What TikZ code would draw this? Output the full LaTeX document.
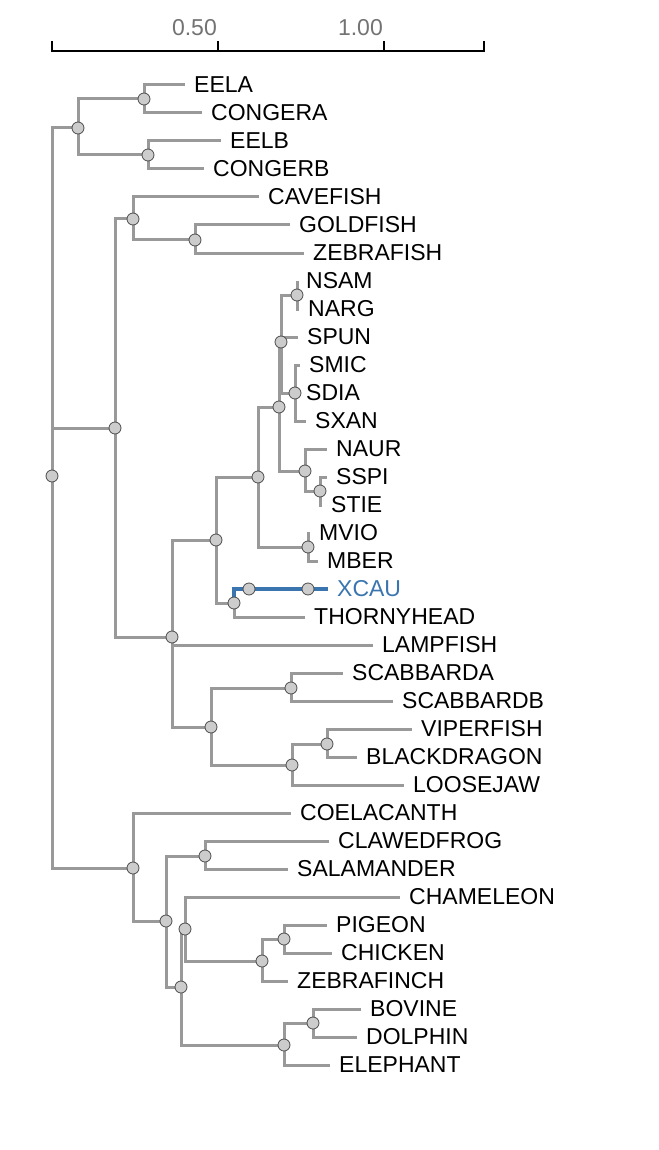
\documentclass[tikz,border=0pt]{standalone}
\usepackage{fontspec}
\setmainfont{Liberation Sans}
\begin{document}
\begin{tikzpicture}[x=1pt,y=-1pt,
  br/.style={draw=gray!80!white,line width=3pt},
  xbr/.style={draw=xblue,line width=4pt},
  leaf/.style={anchor=west,inner sep=0pt,font=\fontsize{23}{23}\selectfont},
  dot/.style={circle,draw=black!70,fill=black!20,line width=0.8pt,minimum size=12pt,inner sep=0pt},
  axlab/.style={anchor=south east,inner sep=0pt,text=black!55,font=\fontsize{23}{23}\selectfont}]
\definecolor{xblue}{HTML}{3A75B0}
\colorlet{gray!80!white}{black!40}
\useasboundingbox (0,0) rectangle (658,1150);
% axis
\draw[line width=1.5pt] (52,41) -- (52,51) -- (484,51) -- (484,41);
\draw[line width=1.5pt] (218,51) -- (218,41);
\draw[line width=1.5pt] (384,51) -- (384,41);
\node[axlab] (l50) at (217,36) {0.50};
\node[axlab] (l100) at (383,36) {1.00};
% internal nodes
\foreach \n/\x/\y in {root/52/476,eel/78/128,ea/144/99,eb/148/155,cave/133/219,gold/195/240,tel/115/428,
  nH/172/637,nG/216/540,nF/258/477,nE/279/407,nB/281/342,nA/297/295,nS/295/393,nC/305/471,nD/320/491,
  nM/308/547,nX/234/603,nI/211/727,nJ/291/688,nK/292/765,nL/327/744,nT/133/868,nU/166/921,nV/205/856,
  nW/181/987,nY/185/929,nP/262/961,nQ/284/939,nZ/284/1045,nR/313/1023}
  \coordinate (\n) at (\x,\y);
% leaves
\foreach \n/\x/\y/\t in {eela/185/85/EELA,congera/202/113/CONGERA,eelb/221/141/EELB,congerb/204/169/CONGERB,
  cavefish/259/197/CAVEFISH,goldfish/290/225/GOLDFISH,zebrafish/304/253/ZEBRAFISH,nsam/297/281/NSAM,
  narg/299/309/NARG,spun/298/337/SPUN,smic/300/365/SMIC,sdia/297/393/SDIA,sxan/306/421/SXAN,
  naur/327/449/NAUR,sspi/327/477/SSPI,stie/322/505/STIE,mvio/310/533/MVIO,mber/318/561/MBER,
  thorny/305/617/THORNYHEAD,lamp/373/645/LAMPFISH,scaba/343/673/SCABBARDA,scabb/393/701/SCABBARDB,
  viper/412/729/VIPERFISH,black/357/757/BLACKDRAGON,loose/404/785/LOOSEJAW,coel/291/813/COELACANTH,
  claw/329/841/CLAWEDFROG,sala/288/869/SALAMANDER,cham/400/897/CHAMELEON,pigeon/327/925/PIGEON,
  chicken/332/953/CHICKEN,zfinch/288/981/ZEBRAFINCH,bovine/361/1009/BOVINE,dolphin/357/1037/DOLPHIN,
  eleph/330/1065/ELEPHANT}
  \node[leaf] (\n) at (\x+9,\y) {\t};
\node[leaf,text=xblue] (xcau) at (337,589) {XCAU};
% branches to leaves
\foreach \p/\c in {ea/eela,ea/congera,eb/eelb,eb/congerb,cave/cavefish,gold/goldfish,gold/zebrafish,
  nA/nsam,nA/narg,nB/spun,nS/smic,nS/sdia,nS/sxan,nC/naur,nD/sspi,nD/stie,nM/mvio,nM/mber,nX/thorny,
  nH/lamp,nJ/scaba,nJ/scabb,nL/viper,nL/black,nK/loose,nT/coel,nV/claw,nV/sala,nY/cham,nQ/pigeon,
  nQ/chicken,nP/zfinch,nR/bovine,nR/dolphin,nZ/eleph}
  \draw[br] (\p) |- ([xshift=-9pt]\c.west);
% branches between internal nodes
\foreach \p/\c in {root/eel,root/tel,root/nT,eel/ea,eel/eb,tel/cave,cave/gold,tel/nH,nH/nG,nH/nI,
  nG/nF,nG/nX,nF/nE,nF/nM,nE/nB,nE/nC,nB/nA,nB/nS,nC/nD,nI/nJ,nI/nK,nK/nL,nT/nU,nU/nV,nU/nW,
  nW/nY,nW/nZ,nY/nP,nP/nQ,nZ/nR}
  \draw[br] (\p) |- (\c);
\draw[xbr] (nX) |- ([xshift=-9pt]xcau.west);
% node dots
\foreach \n in {root,eel,ea,eb,cave,gold,tel,nH,nG,nF,nE,nB,nA,nS,nC,nD,nM,nX,nI,nJ,nK,nL,nT,nU,nV,nW,nY,nP,nQ,nZ,nR}
  \node[dot] at (\n) {};
\node[dot] (xd1) at (249,589) {};
\node[dot] (xd2) at (308,589) {};
\end{tikzpicture}
\end{document}
